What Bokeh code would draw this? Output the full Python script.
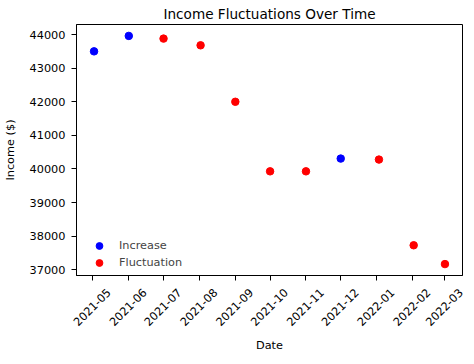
import math
import pandas as pd
from bokeh.plotting import figure
from bokeh.models import (ColumnDataSource, Range1d, MonthsTicker, SingleIntervalTicker, FixedTicker,
                          NumeralTickFormatter, DatetimeAxis, DatetimeTickFormatter, Title)
from bokeh.embed import file_html
from bokeh.resources import INLINE

# --- data ---
dates = ["2021-05-02", "2021-06-01", "2021-07-01", "2021-08-02", "2021-09-01", "2021-10-01",
         "2021-11-01", "2021-12-01", "2022-01-03", "2022-02-02", "2022-03-01"]
income = [43500, 43960, 43880, 43680, 42000, 39930, 39930, 40310, 40280, 37730, 37170]
category = ["Increase", "Increase", "Fluctuation", "Fluctuation", "Fluctuation", "Fluctuation",
            "Fluctuation", "Increase", "Fluctuation", "Fluctuation", "Fluctuation"]
series_names = ["Increase", "Fluctuation"]
series_colors = ["#0000ff", "#ff0000"]
x_tick_labels = ["2021-05", "2021-06", "2021-07", "2021-08", "2021-09", "2021-10",
                 "2021-11", "2021-12", "2022-01", "2022-02", "2022-03"]

df = pd.DataFrame({"date": pd.to_datetime(dates), "income": income, "category": category})

FONT = "DejaVu Sans"
TICK_PX = "11.3px"
FRAME_W = 386

# ranges with 5% padding like matplotlib
xmin, xmax = df["date"].min(), df["date"].max()
xpad = (xmax - xmin) * 0.05
ymin, ymax = min(income), max(income)
ypad = (ymax - ymin) * 0.05
x_lo, x_hi = xmin - xpad, xmax + xpad

p = figure(frame_width=FRAME_W, frame_height=251, x_axis_type="datetime", output_backend="svg",
           toolbar_location=None, title="Income Fluctuations Over Time",
           x_range=Range1d(x_lo, x_hi), y_range=Range1d(ymin - ypad, ymax + ypad),
           min_border_left=0, min_border_right=6, min_border_top=18, min_border_bottom=0)

for name, color in zip(series_names, series_colors):
    sub = df[df["category"] == name]
    src = ColumnDataSource(dict(date=sub["date"], income=sub["income"]))
    p.scatter("date", "income", source=src, size=7.5, color=color, legend_label=name)

p.title.align = "center"
p.title.text_font = FONT
p.title.text_font_size = "13.6px"
p.title.text_font_style = "normal"
p.title.text_color = "black"
p.title.standoff = 6

p.xgrid.visible = False
p.ygrid.visible = False
p.outline_line_color = "black"
p.outline_line_width = 1

p.xaxis.ticker = MonthsTicker(months=list(range(12)))
p.yaxis.ticker = SingleIntervalTicker(interval=1000)
p.yaxis.formatter = NumeralTickFormatter(format="0")

for ax in (p.xaxis[0], p.yaxis[0]):
    ax.axis_line_color = "black"
    ax.major_tick_line_color = "black"
    ax.major_tick_out = 5
    ax.major_tick_in = 0
    ax.minor_tick_line_color = None
    ax.major_label_text_font = FONT
    ax.major_label_text_font_size = TICK_PX
    ax.major_label_text_color = "black"
    ax.axis_label_text_font = FONT
    ax.axis_label_text_font_size = TICK_PX
    ax.axis_label_text_font_style = "normal"
    ax.axis_label_text_color = "black"

p.yaxis.major_label_standoff = 6
p.yaxis.axis_label = "Income ($)"
p.yaxis.axis_label_standoff = 10

# the tick-mark axis: marks only, its labels come from the label axis below
p.xaxis.major_label_text_color = None
p.xaxis.major_label_text_font_size = "1px"
p.xaxis.major_label_standoff = 0

# label axis: 45-degree labels placed so that each is centred on its month tick
tick_dates = pd.to_datetime(x_tick_labels)
ms_per_px = (x_hi - x_lo) / pd.Timedelta(milliseconds=1) / FRAME_W
label_shift_ms = 16 * ms_per_px
label_ticks = [d.value / 1e6 + label_shift_ms for d in tick_dates]
fmt = "%Y-%m"
lab_ax = DatetimeAxis(ticker=FixedTicker(ticks=label_ticks),
                      formatter=DatetimeTickFormatter(milliseconds=fmt, seconds=fmt, minsec=fmt,
                                                      minutes=fmt, hourmin=fmt, hours=fmt,
                                                      days=fmt, months=fmt, years=fmt))
lab_ax.axis_line_color = None
lab_ax.major_tick_line_color = None
lab_ax.minor_tick_line_color = None
lab_ax.major_tick_out = 0
lab_ax.major_tick_in = 0
lab_ax.major_label_orientation = math.pi / 4
lab_ax.major_label_standoff = 10
lab_ax.major_label_text_font = FONT
lab_ax.major_label_text_font_size = TICK_PX
lab_ax.major_label_text_color = "black"
p.add_layout(lab_ax, "below")

# x axis title
p.add_layout(Title(text="Date", align="center", text_font=FONT, text_font_size=TICK_PX,
                   text_font_style="normal", text_color="black", standoff=9), "below")

p.legend.location = "bottom_left"
p.legend.border_line_color = None
p.legend.background_fill_alpha = 0
p.legend.label_text_font = FONT
p.legend.label_text_font_size = TICK_PX
p.legend.glyph_width = 38
p.legend.glyph_height = 17
p.legend.label_height = 17
p.legend.label_standoff = 1
p.legend.spacing = 0
p.legend.padding = 4
p.legend.margin = 4

open("out.html", "w").write(file_html(p, INLINE))
